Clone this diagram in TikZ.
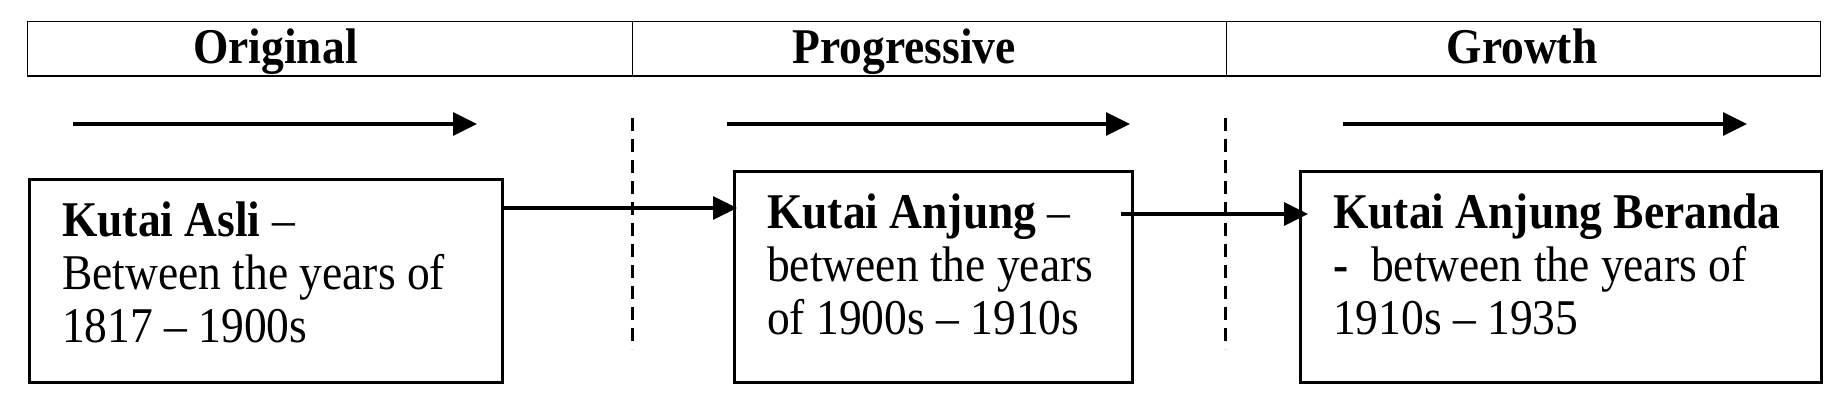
\documentclass[tikz,border=0pt]{standalone}
\usepackage{fontspec}
\setmainfont{Liberation Serif}[FakeStretch=0.91]
\usetikzlibrary{arrows.meta}
\begin{document}
\begin{tikzpicture}[x=1pt,y=-1pt,
  hdr/.style={draw, line width=1.4pt, minimum height=54.6pt, inner sep=0pt, anchor=north west},
  hdrtext/.style={anchor=base, inner sep=0pt, font=\fontsize{50}{53}\selectfont\bfseries},
  stagebox/.style={draw, line width=3.4pt, inner sep=0pt, anchor=north west},
  linetext/.style={anchor=base west, inner sep=0pt, font=\fontsize{50}{53}\selectfont},
  flow/.style={line width=3.2pt, -{Triangle[length=24pt,width=23pt]}},
  divider/.style={line width=3pt, dash pattern=on 13pt off 8pt},
]
\useasboundingbox[fill=white] (0,0) rectangle (1826,402);

% header row
\node[hdr, minimum width=605.3pt] (h1) at (26.7,20.7) {};
\node[hdr, minimum width=594pt] (h2) at (632,20.7) {};
\node[hdr, minimum width=594pt] (h3) at (1226,20.7) {};
\node[hdrtext] (t1) at (275.5,63.3) {Original};
\node[hdrtext] (t2) at (904,63.3) {Progressive};
\node[hdrtext] (t3) at (1522,63.3) {Growth};

% top arrows
\coordinate (a1s) at (73,124);  \coordinate (a1e) at (477,124);
\coordinate (a2s) at (727,124); \coordinate (a2e) at (1130,124);
\coordinate (a3s) at (1343,124); \coordinate (a3e) at (1747,124);
\draw[flow] (a1s) -- (a1e);
\draw[flow] (a2s) -- (a2e);
\draw[flow] (a3s) -- (a3e);

% dashed dividers
\coordinate (d1s) at (632.3,118); \coordinate (d1e) at (632.3,349);
\coordinate (d2s) at (1225.7,118); \coordinate (d2e) at (1225.7,349);
\draw[divider] (d1s) -- (d1e);
\draw[divider] (d2s) -- (d2e);

% stage boxes
\node[stagebox, minimum width=473pt, minimum height=203pt] (b1) at (28,178) {};
\node[stagebox, minimum width=398pt, minimum height=211pt] (b2) at (733,170) {};
\node[stagebox, minimum width=521pt, minimum height=211pt] (b3) at (1299,170) {};

% box texts
\node[linetext] (b1l1) at (62,236) {\textbf{Kutai Asli} –};
\node[linetext] (b1l2) at (62,289) {Between the years of};
\node[linetext] (b1l3) at (62,342) {1817 – 1900s};

\node[linetext] (b2l1) at (767,228) {\textbf{Kutai Anjung} –};
\node[linetext] (b2l2) at (767,281) {between the years};
\node[linetext] (b2l3) at (767,334) {of 1900s – 1910s};

\node[linetext] (b3l1) at (1333,228) {\textbf{Kutai Anjung Beranda}};
\node[linetext] (b3l2) at (1333,281) {\textbf{-}\ \ between the years of};
\node[linetext] (b3l3) at (1333,334) {1910s – 1935};

% connectors between boxes
\draw[flow] ([yshift=-30pt]b1.north east) -- ([xshift=4pt,yshift=-38pt]b2.north west);
\draw[flow] ([xshift=-13pt,yshift=-44pt]b2.north east) -- ([xshift=9pt,yshift=-44pt]b3.north west);
\end{tikzpicture}
\end{document}
